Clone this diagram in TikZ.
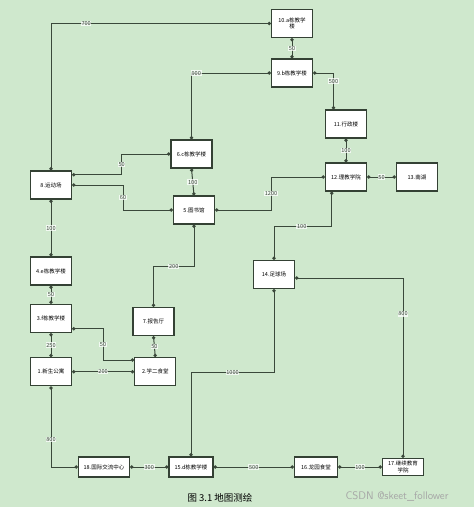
\documentclass[tikz,border=0pt]{standalone}
\usepackage{fontspec}
\usepackage{tikz}
\usetikzlibrary{arrows.meta}
\newfontfamily\cjk{Noto Sans CJK SC}
\definecolor{mapbg}{RGB}{207,232,205}
\definecolor{roadgray}{RGB}{58,72,58}
\newcommand{\drawroad}{\draw[roadgray, line width=1pt, {Circle[length=3.3pt]}-{Circle[length=3.3pt]}]}

\begin{document}
\begin{tikzpicture}[x=1pt,y=-1pt,
    spot/.style={draw=roadgray!90!black, fill=white, line width=1.2pt, minimum width=41pt, minimum height=28pt,
        inner sep=1pt, align=center, font=\cjk\fontsize{5.5}{6.4}\selectfont},
    flat/.style={minimum height=20pt},
    dist/.style={fill=white, fill opacity=0.75, text opacity=1, inner sep=0.6pt,
        font=\cjk\fontsize{5.6}{6}\selectfont}]
    % Background
    \fill[mapbg] (0,0) rectangle (474,507);
    \useasboundingbox (0,0) rectangle (474,507);

    % Draw places
    \node[spot] (n10) at (292,23.5) {10.a栋教学\\楼};
    \node[spot] (n9) at (292,73) {9.b栋教学楼};
    \node[spot] (n11) at (346,124) {11.行政楼};
    \node[spot] (n12) at (346,177) {12.理教学院};
    \node[spot] (n13) at (417,177) {13.南湖};
    \node[spot] (n6) at (191.5,154) {6.c栋教学楼};
    \node[spot] (n8) at (51,185) {8.运动场};
    \node[spot] (n5) at (194,210) {5.图书馆};
    \node[spot] (n4) at (51,271) {4.e栋教学楼};
    \node[spot] (n14) at (274,274.5) {14.足球场};
    \node[spot] (n3) at (51,318.5) {3.f栋教学楼};
    \node[spot] (n7) at (153.5,321.5) {7.报告厅};
    \node[spot] (n1) at (51,371.7) {1.新生公寓};
    \node[spot] (n2) at (155.3,371.7) {2.学二食堂};
    \node[spot, flat, minimum width=51pt] (n18) at (104,467) {18.国际交流中心};
    \node[spot, flat, minimum width=44pt] (n15) at (191,467) {15.d栋教学楼};
    \node[spot, flat, minimum width=43pt] (n16) at (316,467) {16.龙园食堂};
    \node[spot, minimum height=17pt] (n17) at (403,467) {17.继续教育\\学院};

    % Draw roads
    \drawroad (n10.west) -| (n8.north) node[dist, pos=0.42] {700};
    \drawroad (n10.south) -- (n9.north) node[dist, midway] {50};
    \drawroad (n9.west) -| (n6.north) node[dist, pos=0.47] {900};
    \drawroad (n9.east) -| ([xshift=-12.5pt]n11.north) node[dist, pos=0.61] {500};
    \drawroad (n11.south) -- (n12.north) node[dist, midway] {100};
    \drawroad (n12.east) -- (n13.west) node[dist, midway] {50};
    \drawroad (n5.east) -- ++(56,0) |- (n12.west) node[dist, pos=0.25] {1200};
    \drawroad ([xshift=-14.3pt]n12.south) -- ++(0,35) -| (n14.north) node[dist, pos=0.26] {100};
    \drawroad ([yshift=-3.5pt]n14.east) -| (n17.north) node[dist, pos=0.6] {800};
    \drawroad (n14.south) -- ++(0,83.3) -| (n15.north) node[dist, pos=0.25] {1000};
    \drawroad (n6.south) -- (n5.north) node[dist, midway] {100};
    \drawroad ([yshift=10.3pt]n8.east) -- ++(49.6,0) |- (n6.west) node[dist, pos=0.25] {50};
    \drawroad (n8.east) -- ++(51,0) |- (n5.west) node[dist, pos=0.25] {60};
    \drawroad (n8.south) -- (n4.north) node[dist, midway] {100};
    \drawroad (n4.south) -- (n3.north) node[dist, midway] {50};
    \drawroad (n5.south) -- ++(0,42) -| (n7.north) node[dist, pos=0.25] {200};
    \drawroad ([yshift=-10.2pt]n3.east) -- ++(31,0) |- ([yshift=11.7pt]n2.west) node[dist, pos=0.25] {50};
    \drawroad (n3.south) -- (n1.north) node[dist, midway] {250};
    \drawroad (n7.south) -- (n2.north) node[dist, midway] {50};
    \drawroad (n1.east) -- (n2.west) node[dist, midway] {200};
    \drawroad (n1.south) |- (n18.west) node[dist, pos=0.33] {800};
    \drawroad (n18.east) -- (n15.west) node[dist, midway] {300};
    \drawroad (n15.east) -- (n16.west) node[dist, midway] {500};
    \drawroad (n16.east) -- (n17.west) node[dist, midway] {100};

    % Caption
    \node[font=\cjk\fontsize{9.5}{11}\selectfont] (title) at (220,498) {图 3.1 地图测绘};
    \node[font=\sffamily\fontsize{11}{12}\selectfont, text=black!35] (mark) at (397,496) {CSDN @skeet\_follower};
\end{tikzpicture}
\end{document}
